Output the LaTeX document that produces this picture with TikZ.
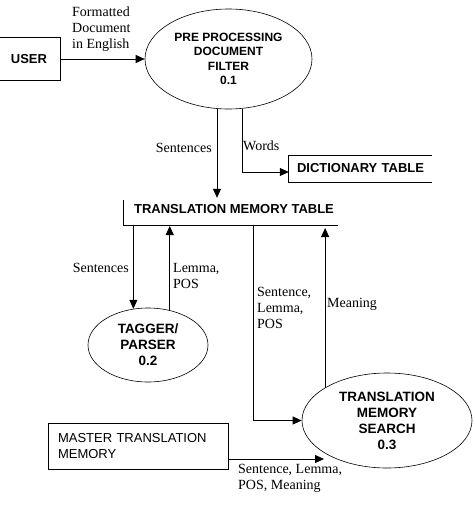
\documentclass[tikz,border=0pt]{standalone}
\usepackage{fontspec}
\setmainfont{Liberation Serif}
\setsansfont{Liberation Sans}
\usetikzlibrary{arrows.meta,shapes.geometric}
\begin{document}
\begin{tikzpicture}[x=1pt,y=-1pt,
  arr/.style={draw, line width=0.8pt, -{Triangle[length=9pt,width=8pt]}},
  ln/.style={draw, line width=0.8pt},
  proc/.style={ellipse, draw, line width=0.6pt, align=center, inner sep=0pt,
    font=\sffamily\bfseries\fontsize{13.5}{16}\selectfont},
  store/.style={font=\sffamily\bfseries\fontsize{13}{15}\selectfont, inner sep=0pt},
  ext/.style={draw, line width=0.8pt, font=\sffamily\bfseries\fontsize{13}{15}\selectfont},
  lbl/.style={font=\fontsize{14}{16}\selectfont, align=left, inner sep=0pt},
]
\useasboundingbox (0,0) rectangle (474,506);

% external entity
\node[ext, minimum width=62pt, minimum height=43pt] (user) at (29,59) {USER};

% processes
\node[proc, minimum width=167pt, minimum height=100pt,
  font=\sffamily\bfseries\fontsize{12}{14.5}\selectfont] (p1) at (228.5,59)
  {PRE PROCESSING\\DOCUMENT\\FILTER\\0.1};
\node[proc, minimum width=120pt, minimum height=74pt] (tagger) at (148,345)
  {TAGGER/\\PARSER\\0.2};
\node[proc, minimum width=170pt, minimum height=95pt] (tms) at (387,420.5)
  {TRANSLATION\\MEMORY\\SEARCH\\0.3};

% data stores
\node[store, minimum width=143pt, minimum height=26pt, text width=127pt,
  inner xsep=8pt, align=left] (dict) at (360.5,169)
  {\raisebox{3pt}{\mbox{DICTIONARY TABLE}}};
\draw[ln] (dict.north east) -- (dict.north west) -- (dict.south west) -- (dict.south east);

\node[store, minimum height=22pt] (tm) at (234,209) {TRANSLATION MEMORY TABLE};
\coordinate (tmtl) at (123,200);
\coordinate (tmline) at (123,225);
\coordinate (tmbr) at (338,225);
\draw[ln] (tmtl) -- (tmline) -- (tmbr);

\node[draw, line width=0.8pt, minimum width=180pt, minimum height=46pt,
  text width=160pt, inner xsep=10pt, align=left,
  font=\sffamily\fontsize{13}{16}\selectfont] (master) at (138,446)
  {MASTER TRANSLATION\\MEMORY};

% flows
\draw[arr] (user.east) -- (p1.west);
\draw[arr] (p1.-103.1) -- (p1.-103.1 |- tm.north);
\draw[arr] (p1.-74.7) |- ([yshift=-3pt]dict.west);
\draw[arr] (tagger.112.7 |- tmline) -- (tagger.112.7);
\draw[arr, shorten >=1pt] (tagger.58.8) -- (tagger.58.8 |- tmline);
\coordinate (sx) at (253,225);
\draw[arr] (sx) |- (tms.west);
\draw[arr, shorten >=3pt] (tms.152.3) -- (tms.152.3 |- tmline);
\coordinate (mt) at (324,459);
\draw[arr] ([yshift=-13pt]master.east) -- (mt);

% labels
\node[lbl, anchor=west] (l1) at (72,29.5) {Formatted\\Document\\in English};
\node[lbl, anchor=east] (l2) at (212,148) {Sentences};
\node[lbl, anchor=west] (l3) at (243,146) {Words};
\node[lbl, anchor=east] (l4) at (129,268) {Sentences};
\node[lbl, anchor=west] (l5) at (173,276) {Lemma,\\POS};
\node[lbl, anchor=west] (l6) at (257,307.5) {Sentence,\\Lemma,\\POS};
\node[lbl, anchor=west] (l7) at (327,304) {Meaning};
\node[lbl, anchor=west] (l8) at (238,478) {Sentence, Lemma,\\POS, Meaning};
\end{tikzpicture}
\end{document}
